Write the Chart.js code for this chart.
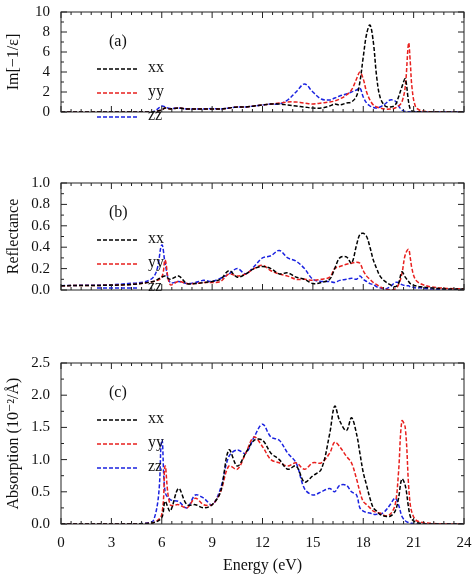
<!DOCTYPE html>
<html><head><meta charset="utf-8">
<script src="https://cdn.jsdelivr.net/npm/chart.js@4"></script>
<style>body{margin:0;background:#fff;width:474px;height:579px;position:relative;overflow:hidden}
canvas{position:absolute;left:0}</style></head>
<body>
<canvas id="ca" width="474" height="170" style="top:0;width:474px;height:170px"></canvas>
<canvas id="cb" width="474" height="178" style="top:170px;width:474px;height:178px"></canvas>
<canvas id="cc" width="474" height="231" style="top:348px;width:474px;height:231px"></canvas>
<script>
const energy=[0,4,5.5,6,6.2,6.5,7,7.5,8,8.5,9,9.5,10,10.5,11,11.5,12,12.5,13,13.5,14,14.5,15,15.5,16,16.3,16.6,17,17.3,17.6,17.8,18,18.2,18.4,18.6,18.8,19,19.3,19.6,19.9,20.1,20.3,20.5,20.7,20.8,20.9,21.1,21.4,22,23,24];
const seriesNames=['xx','yy','zz'];
const xTicks=[0,3,6,9,12,15,18,21,24];
// (a) Im[-1/eps]
const lossXX=[0,0,0.02,0.2,0.4,0.3,0.4,0.3,0.3,0.3,0.3,0.3,0.4,0.5,0.5,0.6,0.7,0.8,0.8,0.7,0.6,0.5,0.4,0.4,0.6,0.8,0.7,0.9,1.0,1.6,3.0,5.5,7.8,8.7,7.0,3.5,1.5,0.6,0.5,0.7,1.5,2.5,3.3,1.0,0.3,0.1,0.05,0.02,0,0,0];
const lossYY=[0,0,0.02,0.2,0.4,0.3,0.4,0.3,0.3,0.3,0.3,0.3,0.4,0.5,0.5,0.6,0.7,0.8,0.9,1.0,1.0,0.9,0.8,0.9,1.0,1.1,1.3,1.7,2.2,3.3,4.0,3.3,2.0,1.2,0.7,0.5,0.4,0.3,0.3,0.4,0.6,1.0,2.5,6.9,5.0,2.5,0.6,0.15,0.02,0,0];
const lossZZ=[0,0,0.05,0.6,0.5,0.35,0.4,0.3,0.3,0.3,0.35,0.3,0.4,0.5,0.5,0.6,0.7,0.8,0.8,1.2,2.0,2.8,2.0,1.3,1.2,1.4,1.6,1.8,2.0,2.2,2.4,1.5,0.9,0.6,0.45,0.4,0.5,0.8,1.2,1.1,0.6,0.2,0.05,0.02,0.01,0,0,0,0,0,0];
// (b) reflectance
const reflXX=[.04,.05,.08,.12,.13,.1,.13,.06,.06,.07,.08,.1,.18,.12,.15,.2,.22,.2,.15,.16,.12,.1,.06,.07,.1,.2,.3,.31,.25,.42,.52,.53,.5,.4,.28,.2,.13,.08,.05,.03,.06,.17,.12,.08,.06,.05,.04,.03,.02,.01,.01];
const reflYY=[.04,.05,.08,.12,.28,.05,.08,.06,.06,.07,.07,.08,.15,.13,.15,.2,.23,.18,.15,.13,.1,.1,.09,.1,.12,.2,.22,.24,.25,.26,.25,.18,.13,.1,.07,.05,.03,.01,0,.01,.05,.15,.33,.38,.3,.2,.1,.06,.03,.015,.01];
const reflZZ=[.04,.06,.12,.42,.25,.07,.08,.06,.07,.09,.08,.11,.15,.2,.15,.22,.3,.32,.37,.3,.27,.2,.1,.08,.08,.07,.09,.1,.11,.1,.13,.1,.08,.06,.05,.03,.02,.01,.03,.07,.07,.05,.04,.04,.03,.03,.02,.02,.01,.005,0];
// (c) absorption
const absXX=[0,0,0.02,0.1,0.35,0.2,0.55,0.3,0.3,0.25,0.3,0.5,1.15,0.9,1.1,1.3,1.3,1.1,1.0,0.85,0.9,0.65,0.75,0.85,1.4,1.83,1.6,1.45,1.65,1.4,1.1,0.8,0.6,0.4,0.25,0.2,0.15,0.12,0.12,0.2,0.4,0.7,0.6,0.25,0.12,0.07,0.03,0.01,0,0,0];
const absYY=[0,0,0.02,0.15,0.9,0.3,0.3,0.25,0.4,0.3,0.3,0.5,0.9,0.85,1.1,1.35,1.2,1.0,0.95,0.9,0.95,0.85,0.95,0.95,1.1,1.27,1.2,1.05,0.95,0.7,0.5,0.35,0.3,0.25,0.2,0.18,0.17,0.13,0.15,0.3,0.8,1.6,1.5,0.6,0.3,0.18,0.07,0.03,0.01,0,0];
const absZZ=[0,0,0.05,1.3,0.5,0.38,0.35,0.25,0.45,0.4,0.3,0.55,1.05,1.15,1.1,1.35,1.55,1.35,1.3,1.1,0.95,0.55,0.45,0.5,0.55,0.5,0.6,0.6,0.5,0.45,0.25,0.2,0.18,0.17,0.15,0.15,0.15,0.2,0.3,0.4,0.3,0.12,0.05,0.02,0.01,0.01,0,0,0,0,0];
const colors=['#000000','#e8201e','#1a22e0'];
const FONT='"Liberation Serif", "DejaVu Serif", serif';
Chart.defaults.font.family=FONT;
Chart.defaults.color='#111';

function mk(id,label,arrs,ymax,ystep,dec,yTitle,padTop,showX,yMinor){
  const ds=arrs.map((a,i)=>({label:seriesNames[i],data:energy.map((e,j)=>({x:e,y:a[j]})),borderColor:colors[i],borderWidth:1.5,borderDash:[4,2],pointRadius:0,tension:0.35,fill:false}));
  const yt=[];for(let v=0;v<=ymax+1e-9;v+=ystep)yt.push(Math.round(v*100)/100);
  const deco={id:'deco',afterDraw(c){
    const ctx=c.ctx,a=c.chartArea,xs=c.scales.x,ys=c.scales.y;
    ctx.save();ctx.strokeStyle='#222';ctx.lineWidth=1;
    ctx.strokeRect(a.left,a.top,a.right-a.left,a.bottom-a.top);
    for(let v=0;v<=24.001;v+=0.6){const px=xs.getPixelForValue(v);const L=(Math.abs(v/3-Math.round(v/3))<1e-6)?6:3;
      ctx.beginPath();ctx.moveTo(px,a.bottom);ctx.lineTo(px,a.bottom-L);ctx.moveTo(px,a.top);ctx.lineTo(px,a.top+L);ctx.stroke();}
    for(let v=0;v<=ymax+1e-9;v+=yMinor){const py=ys.getPixelForValue(v);const L=(Math.abs(v/ystep-Math.round(v/ystep))<1e-6)?6:3;
      ctx.beginPath();ctx.moveTo(a.left,py);ctx.lineTo(a.left+L,py);ctx.moveTo(a.right,py);ctx.lineTo(a.right-L,py);ctx.stroke();}
    ctx.fillStyle='#111';ctx.font='16px '+FONT;ctx.textBaseline='middle';
    ctx.fillText(label,a.left+48,a.top+30);
    for(let i=0;i<3;i++){const y=a.top+57+i*24;
      ctx.strokeStyle=colors[i];ctx.lineWidth=1.5;ctx.setLineDash([4,2]);
      ctx.beginPath();ctx.moveTo(a.left+36,y);ctx.lineTo(a.left+76,y);ctx.stroke();ctx.setLineDash([]);
      ctx.fillText(seriesNames[i],a.left+87,y-1);}
    ctx.restore();}};
  return new Chart(document.getElementById(id),{type:'line',data:{datasets:ds},plugins:[deco],
    options:{responsive:false,animation:false,
      layout:{padding:{top:padTop,right:10,left:0,bottom:showX?0:3}},
      plugins:{legend:{display:false},tooltip:{enabled:false}},
      scales:{
        x:{type:'linear',min:0,max:24,display:showX,grid:{display:false},border:{display:false},
          afterBuildTicks(s){s.ticks=xTicks.map(v=>({value:v}));},
          ticks:{font:{size:15},color:'#111',padding:2,maxRotation:0,autoSkip:false},
          title:{display:true,text:'Energy (eV)',font:{size:16},color:'#111',padding:{top:4}},
          afterFit(s){s.height=55;}},
        y:{min:0,max:ymax,grid:{display:false},border:{display:false},
          afterBuildTicks(s){s.ticks=yt.map(v=>({value:v}));},
          ticks:{autoSkip:false,font:{size:15},color:'#111',padding:3,callback:v=>Number(v).toFixed(dec)},
          title:{display:true,text:yTitle,font:{size:16},color:'#111',padding:{bottom:2}},
          afterFit(s){s.width=61;}}
      }}});
}
mk('ca','(a)',[lossXX,lossYY,lossZZ],10,2,0,'Im[\u22121/\u03b5]',5,false,1);
mk('cb','(b)',[reflXX,reflYY,reflZZ],1.0,0.2,1,'Reflectance',13,false,0.1);
mk('cc','(c)',[absXX,absYY,absZZ],2.5,0.5,1,'Absorption (10\u207b\u00b2/\u00c5)',15,true,0.25);
</script></body></html>
